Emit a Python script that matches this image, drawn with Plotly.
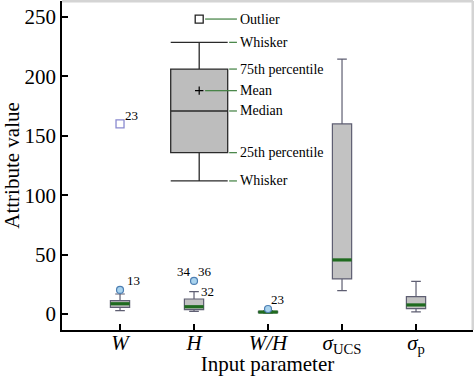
import plotly.graph_objects as go

# ---- data ----
positions = [0, 1, 2, 3, 4]
tick_text = ["<i>W</i>", "<i>H</i>", "<i>W/H</i>",
             "<i>σ</i><sub>UCS</sub>", "<i>σ</i><sub>p</sub>"]
q1 = [5.6, 3.6, 1.1, 29.5, 4.5]
median = [8.6, 6.1, 1.6, 45.5, 7.6]
q3 = [11.2, 12.6, 2.1, 160.0, 14.6]
lower = [2.8, 2.1, 0.7, 19.6, 1.7]
upper = [16.8, 18.8, 2.8, 214.6, 27.5]

# mild outliers (circles)
out_x = [0, 1, 2]
out_y = [20.2, 27.8, 4.2]
# extreme outlier (square)
ext_x = [0]
ext_y = [160.0]

# sample labels: (x, y, text, dx px, dy px)
lab_x = [0, 0, 1, 1, 1, 2]
lab_y = [160.0, 20.2, 27.8, 27.8, 18.8, 4.2]
lab_t = ["23", "13", "34", "36", "32", "23"]
lab_dx = [11, 13, -10, 11, 13, 9]
lab_dy = [8, 9, 9, 9, 0, 9]

# key diagram (illustrative box)
key_x = 1.07
key_stats = dict(q1=135.8, median=170.9, q3=206.2, lower=112.0, upper=228.7,
                 mean=188.0, outlier=248.3)
key_labels = ["Outlier", "Whisker", "75th percentile", "Mean", "Median",
              "25th percentile", "Whisker"]
key_keys = ["outlier", "upper", "q3", "mean", "median", "q1", "lower"]

# ---- style ----
FONT = "Liberation Serif"
BOX_W = 0.26
KEY_W = 0.77
GREEN = "#1f6b1f"
PTR_GREEN = "#3f7f3f"

fig = go.Figure()

fig.add_trace(go.Box(
    x=positions, q1=q1, median=median, q3=q3,
    lowerfence=lower, upperfence=upper,
    width=BOX_W, whiskerwidth=0.5,
    fillcolor="#c2c2c2", line=dict(color="#5e5e72", width=1.2),
    boxpoints=False, showlegend=False, hoverinfo="skip"))

# median lines
mx, my = [], []
for p, m in zip(positions, median):
    mx += [p - BOX_W / 2, p + BOX_W / 2, None]
    my += [m, m, None]
fig.add_trace(go.Scatter(x=mx, y=my, mode="lines",
                         line=dict(color=GREEN, width=3.2),
                         showlegend=False, hoverinfo="skip"))

fig.add_trace(go.Scatter(x=out_x, y=out_y, mode="markers",
                         marker=dict(symbol="circle", size=7, color="#a9d3ee",
                                     line=dict(color="#4d7fb3", width=1.2)),
                         showlegend=False, hoverinfo="skip"))
fig.add_trace(go.Scatter(x=ext_x, y=ext_y, mode="markers",
                         marker=dict(symbol="square-open", size=8, color="#8a8ad0",
                                     line=dict(width=1.3)),
                         showlegend=False, hoverinfo="skip"))

# key box
fig.add_trace(go.Box(
    x=[key_x], q1=[key_stats["q1"]], median=[key_stats["median"]],
    q3=[key_stats["q3"]], lowerfence=[key_stats["lower"]],
    upperfence=[key_stats["upper"]],
    width=KEY_W, whiskerwidth=1.0,
    fillcolor="#bdbdbd", line=dict(color="#2a2a2a", width=1.3),
    boxpoints=False, showlegend=False, hoverinfo="skip"))
fig.add_trace(go.Scatter(x=[key_x], y=[key_stats["mean"]], mode="markers",
                         marker=dict(symbol="cross-thin", size=6,
                                     line=dict(color="black", width=1.2)),
                         showlegend=False, hoverinfo="skip"))
fig.add_trace(go.Scatter(x=[key_x], y=[key_stats["outlier"]], mode="markers",
                         marker=dict(symbol="square-open", size=8, color="#222222",
                                     line=dict(width=1.3)),
                         showlegend=False, hoverinfo="skip"))

# key pointers
edge = key_x + KEY_W / 2
ptr_end = edge + 0.125
px_, py_ = [], []
for k in key_keys:
    v = key_stats[k]
    start = key_x + 0.08 if k in ("outlier", "mean") else edge + 0.02
    px_ += [start, ptr_end, None]
    py_ += [v, v, None]
fig.add_trace(go.Scatter(x=px_, y=py_, mode="lines",
                         line=dict(color=PTR_GREEN, width=1.2),
                         showlegend=False, hoverinfo="skip"))
for k, t in zip(key_keys, key_labels):
    fig.add_annotation(x=ptr_end, y=key_stats[k], text=t, showarrow=False,
                       xanchor="left", yanchor="middle", xshift=1,
                       font=dict(family=FONT, size=14, color="black"))

for x, y, t, dx, dy in zip(lab_x, lab_y, lab_t, lab_dx, lab_dy):
    fig.add_annotation(x=x, y=y, text=t, showarrow=False,
                       xanchor="center", yanchor="middle",
                       xshift=dx, yshift=dy,
                       font=dict(family=FONT, size=13, color="black"))

# light frame on top / right
fig.add_shape(type="line", xref="paper", yref="paper", x0=0, x1=1, y0=1, y1=1,
              line=dict(color="#d4d4d4", width=3))
fig.add_shape(type="line", xref="paper", yref="paper", x0=1, x1=1, y0=0, y1=1,
              line=dict(color="#d4d4d4", width=3))

fig.update_layout(
    width=474, height=376,
    margin=dict(l=62, r=1, t=1, b=46, autoexpand=False),
    paper_bgcolor="white", plot_bgcolor="white",
    font=dict(family=FONT, size=21, color="black"),
    showlegend=False,
    xaxis=dict(range=[-0.784, 4.77], tickvals=positions, ticktext=tick_text,
               showline=True, linecolor="black", linewidth=1.6,
               ticks="inside", ticklen=6, tickwidth=1.5, tickcolor="black",
               showgrid=False, zeroline=False, automargin=False,
               ticklabelstandoff=-7,
               tickfont=dict(family=FONT, size=21),
               title=dict(text="Input parameter", standoff=8,
                          font=dict(family=FONT, size=21))),
    yaxis=dict(range=[-13.5, 263.5], tickvals=[0, 50, 100, 150, 200, 250],
               showline=True, linecolor="black", linewidth=1.6,
               ticks="inside", ticklen=6, tickwidth=1.5, tickcolor="black",
               showgrid=False, zeroline=False, automargin=False,
               tickfont=dict(family=FONT, size=21),
               title=dict(text="Attribute value", standoff=2,
                          font=dict(family=FONT, size=21))),
)

fig.write_html("out.html", config={"displayModeBar": False},
               post_script="document.body.style.margin='0';"
                           "document.body.style.overflow='hidden';")
